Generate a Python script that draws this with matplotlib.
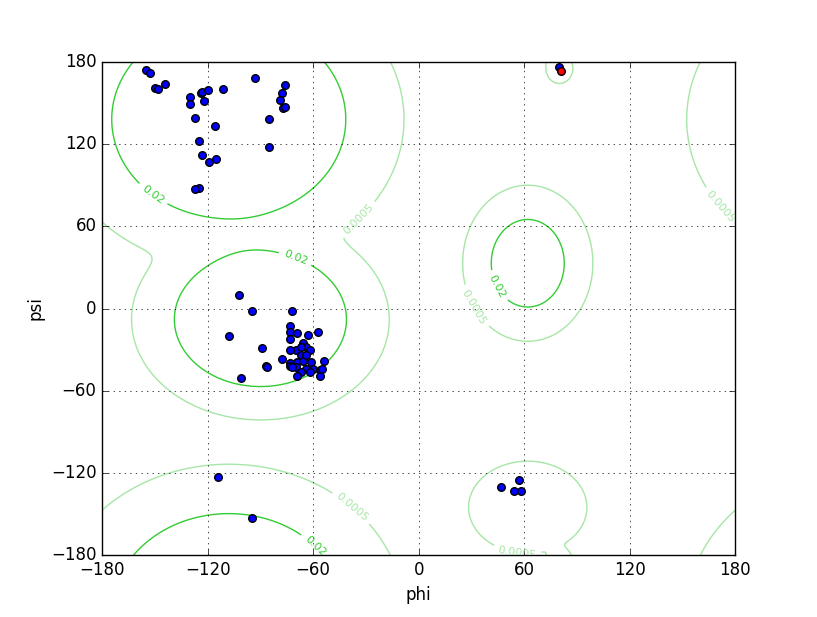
import numpy as np
import matplotlib
matplotlib.use("Agg")
import matplotlib.pyplot as plt

plt.style.use("classic")

# residue angles (degrees)
phi_blue = [-155, -153, -144, -150, -148, -130, -130, -124, -123, -120, -122, -111, -93,
            -76, -78, -79, -77, -76, -127, -116, -85, -125, -123, -119, -115, -125, -127, -85,
            80, -102, -95, -108, -89, -101, -87, -86, -114, -95, 47, 57, 54, 58,
            -72, -73, -73, -69, -63, -57, -73, -66, -64, -70, -62, -67, -73, -78, -73, -69,
            -66, -61, -54, -73, -70, -64, -60, -56, -67, -62, -69, -56, -72, -64, -67, -55]
psi_blue = [174, 172, 164, 161, 160, 154, 149, 157, 158, 159, 151, 160, 168,
            163, 157, 152, 146, 147, 139, 133, 138, 122, 112, 107, 109, 88, 87, 118,
            176, 10, -2, -20, -29, -51, -42, -43, -123, -153, -130, -125, -133, -133,
            -2, -13, -17, -18, -19, -17, -22, -25, -28, -30, -30, -34, -30, -37, -40, -39,
            -38, -39, -38, -42, -43, -44, -44, -45, -46, -46, -49, -49, -43, -34, -28, -44]
phi_red = [81]
psi_red = [173]

# reference density modelled as periodic flat-topped blobs: (phi0, psi0, amp, sphi, spsi)
blobs = [(-108, 138, 0.05, 68, 74),
         (-90, -8, 0.05, 50, 50),
         (62, 33, 0.03, 26, 40),
         (62, -145, 0.004, 28, 28),
         (80, 175, 0.002, 7, 10)]
levels = [0.0005, 0.02]

g = np.linspace(-180, 180, 361)
X, Y = np.meshgrid(g, g)
Z = np.zeros_like(X)
for p0, s0, a, sp, ss in blobs:
    for dx in (-360, 0, 360):
        for dy in (-360, 0, 360):
            r2 = ((X - p0 - dx) / sp) ** 2 + ((Y - s0 - dy) / ss) ** 2
            Z += a * np.exp(-r2 ** 2)

fig = plt.figure(figsize=(8.17, 6.17), dpi=100, facecolor="white")
ax = fig.add_subplot(111)
cs = ax.contour(X, Y, Z, levels=levels, colors=["#a6e6a6", "#33cc33"], linewidths=1)
ax.clabel(cs, fmt={0.0005: "0.0005", 0.02: "0.02"}, fontsize=8, inline=True)

ax.scatter(phi_blue, psi_blue, c="blue", edgecolors="black", s=30, zorder=3)
ax.scatter(phi_red, psi_red, c="red", edgecolors="black", s=30, zorder=3)

ax.set_xlim(-180, 180)
ax.set_ylim(-180, 180)
ax.set_xticks(range(-180, 181, 60))
ax.set_yticks(range(-180, 181, 60))
ax.set_xlabel("phi")
ax.set_ylabel("psi")
ax.grid(True)

fig.savefig("out.png", dpi=100, facecolor="white")
